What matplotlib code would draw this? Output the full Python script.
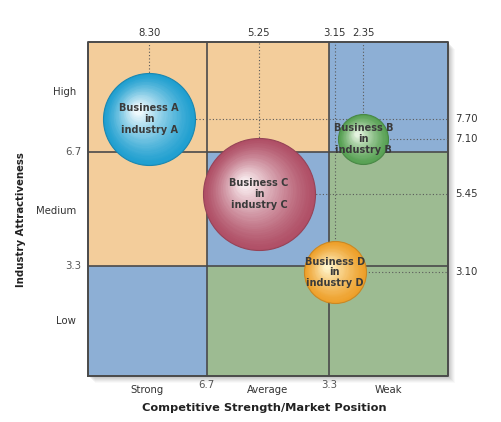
import numpy as np
import matplotlib
matplotlib.use("Agg")
import matplotlib.pyplot as plt
from matplotlib.patches import Rectangle
from matplotlib.transforms import offset_copy, ScaledTranslation
from matplotlib.colors import to_rgb

plt.rcParams['font.family'] = ['DejaVu Sans']

# grid boundaries (competitive strength runs 10 -> 0, attractiveness 0 -> 10)
x_bounds = [10, 6.7, 3.3, 0]
y_bounds = [10, 6.7, 3.3, 0]
x_zone_labels = ["Strong", "Average", "Weak"]
y_zone_labels = ["High", "Medium", "Low"]
# rows top->bottom, columns left->right
cell_colors = [["#f3cd9b", "#f3cd9b", "#8dafd5"],
               ["#f3cd9b", "#8dafd5", "#9dbb92"],
               ["#8dafd5", "#9dbb92", "#9dbb92"]]

# businesses
names = ["Business A\nin\nindustry A", "Business B\nin\nindustry B",
         "Business C\nin\nindustry C", "Business D\nin\nindustry D"]
strength = [8.30, 2.35, 5.25, 3.15]
attract = [7.70, 7.10, 5.45, 3.10]
radius_px = [46, 25, 56, 31]
base_cols = ["#1f9fd0", "#56a052", "#b04f66", "#eea02a"]
light_cols = ["#eef9fd", "#e4f3df", "#f7e9ec", "#fff3c8"]

fig = plt.figure(figsize=(5.02, 4.22), dpi=100)
fig.patch.set_facecolor("white")
ax = fig.add_axes([88 / 502, (422 - 376) / 422, 360 / 502, 334 / 422])
ax.set_xlim(10, 0)
ax.set_ylim(0, 10)
ax.set_facecolor("none")
ax.axis("off")

# soft drop shadow
for k, a in zip(range(7, 0, -1), [0.06, 0.08, 0.10, 0.12, 0.14, 0.16, 0.18]):
    off = ScaledTranslation(k * 0.72 / 72, -k * 0.72 / 72, fig.dpi_scale_trans)
    ax.add_patch(Rectangle((0, 0), 1, 1, transform=ax.transAxes + off,
                           facecolor="#9a9a9a", alpha=a, edgecolor="none", zorder=0, clip_on=False))

for i in range(3):
    for j in range(3):
        x0, x1 = x_bounds[j], x_bounds[j + 1]
        y1, y0 = y_bounds[i], y_bounds[i + 1]
        ax.add_patch(Rectangle((x1, y0), x0 - x1, y1 - y0, facecolor=cell_colors[i][j],
                               edgecolor="none", zorder=1))

for v in [6.7, 3.3]:
    ax.plot([v, v], [0, 10], color="#4a4a4a", lw=1.2, zorder=2)
    ax.plot([0, 10], [v, v], color="#4a4a4a", lw=1.2, zorder=2)
ax.plot([10, 0, 0, 10, 10], [0, 0, 10, 10, 0], color="#4a4a4a", lw=1.4, zorder=2, clip_on=False)

# dotted guide lines
for sx, ay in zip(strength, attract):
    ax.plot([sx, sx], [ay, 10], color="#5a5a5a", lw=0.8, ls=(0, (1, 2)), zorder=3)
    ax.plot([sx, 0], [ay, ay], color="#5a5a5a", lw=0.8, ls=(0, (1, 2)), zorder=3)
    ax.text(sx, 10, f"{sx:.2f}", transform=offset_copy(ax.transData, fig, y=4, units="dots"),
            ha="center", va="bottom", fontsize=7.3, color="#333333")
    ax.text(0, ay, f"{ay:.2f}", transform=offset_copy(ax.transData, fig, x=7, units="dots"),
            ha="left", va="center", fontsize=7.3, color="#333333")

# bubbles with a simple sphere shading
n = 30
for k in range(4):
    c0 = np.array(to_rgb(base_cols[k]))
    c1 = np.array(to_rgb(light_cols[k]))
    r = radius_px[k]
    for t in np.linspace(0, 1, n):
        rr = r * (1 - 0.9 * t)
        dx, dy = -0.25 * r * t, 0.2 * r * t
        col = c0 + (c1 - c0) * t ** 1.3
        ax.plot(strength[k], attract[k], marker="o", ms=2 * rr * 72 / 100, mew=0,
                color=col, zorder=4,
                transform=offset_copy(ax.transData, fig, x=dx, y=dy, units="dots"))
    ax.plot(strength[k], attract[k], marker="o", ms=2 * r * 72 / 100, mfc="none",
            mec=c0 * 0.85, mew=0.8, zorder=4)
    ax.text(strength[k], attract[k], names[k], ha="center", va="center", fontsize=7,
            fontweight="bold", color="#3a3a3a", linespacing=1.1, zorder=5)

# zone labels
for j, lab in enumerate(x_zone_labels):
    xc = (x_bounds[j] + x_bounds[j + 1]) / 2
    ax.text(xc, 0, lab, transform=offset_copy(ax.transData, fig, y=-14, units="dots"),
            ha="center", va="center", fontsize=7.3, color="#333333")
y_nudge = [5, -2, 0]
for i, lab in enumerate(y_zone_labels):
    yc = (y_bounds[i] + y_bounds[i + 1]) / 2
    ax.text(10, yc, lab, transform=offset_copy(ax.transData, fig, x=-12, y=y_nudge[i], units="dots"),
            ha="right", va="center", fontsize=7.3, color="#333333")
for v in [6.7, 3.3]:
    ax.text(v, 0, f"{v}", transform=offset_copy(ax.transData, fig, y=-9, units="dots"),
            ha="center", va="center", fontsize=7.3, color="#555555")
    ax.text(10, v, f"{v}", transform=offset_copy(ax.transData, fig, x=-7, units="dots"),
            ha="right", va="center", fontsize=7.3, color="#555555")

fig.text(264 / 502, 1 - 408 / 422, "Competitive Strength/Market Position", ha="center", va="center",
         fontsize=8.2, fontweight="bold", color="#222222")
fig.text(21 / 502, 1 - 220 / 422, "Industry Attractiveness", ha="center", va="center",
         rotation=90, fontsize=7.3, fontweight="bold", color="#222222")

fig.savefig("out.png", dpi=100)
